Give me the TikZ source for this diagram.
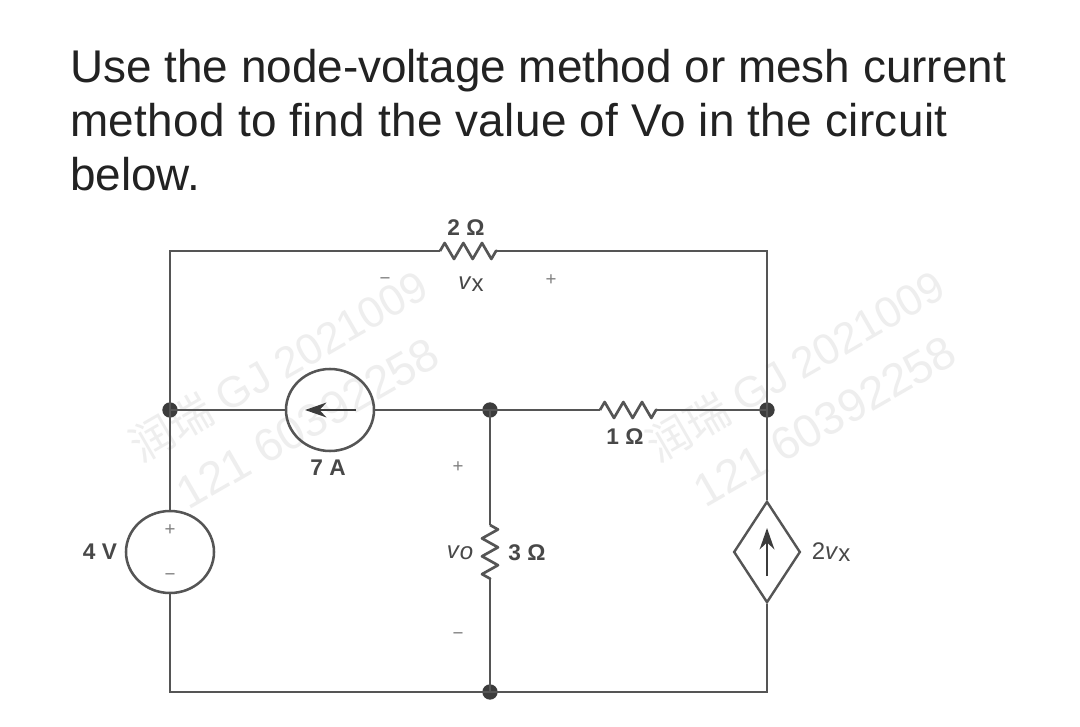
\documentclass[tikz,border=0pt]{standalone}
\usepackage{fontspec}
\setmainfont{Liberation Sans}
\newfontfamily\cjk{Noto Sans CJK SC}
\usetikzlibrary{decorations.pathmorphing,arrows.meta,shapes.geometric}
\definecolor{wire}{HTML}{555555}
\definecolor{lab}{HTML}{484848}
\definecolor{mark}{HTML}{EEEEEE}
\definecolor{head}{HTML}{222222}
\tikzset{
  wirep/.style={draw=wire,line width=2pt},
  dotn/.style={circle,fill=wire!70!black,inner sep=0pt,minimum size=11.5pt},
  src/.style={ellipse,draw=wire,line width=1.9pt,inner sep=0pt,minimum width=66pt,minimum height=61.5pt},
  dep/.style={diamond,draw=wire,line width=1.8pt,inner sep=0pt,minimum width=50pt,minimum height=76pt,aspect=0.66},
  res/.style={wirep,line join=round,decorate,decoration={zigzag,segment length=14pt,amplitude=6pt}},
  resv/.style={wirep,line join=round,decorate,decoration={zigzag,segment length=13.4pt,amplitude=6pt}},
  lbl/.style={text=lab,font=\fontsize{17}{17}\selectfont\bfseries,inner sep=0pt},
  lbi/.style={text=lab,font=\fontsize{18}{18}\selectfont,inner sep=0pt},
  pm/.style={text=lab!70,font=\fontsize{14}{14}\selectfont,inner sep=0pt},
  title/.style={text=head,font=\fontsize{34.4}{40.5}\selectfont,inner sep=0pt,anchor=base west},
  wmk/.style={text=mark,font=\fontsize{32.5}{32.5}\selectfont,inner sep=0pt,anchor=west,rotate=30},
  wmn/.style={wmk,font=\fontsize{34.5}{34.5}\selectfont},
  arr/.style={-{Stealth[length=16pt,width=11pt]},draw=wire!70!black,line width=2.2pt}
}
\begin{document}
\begin{tikzpicture}[x=0.75pt,y=-0.75pt]
\useasboundingbox (0,0) rectangle (1080,727);
\fill[white] (0,0) rectangle (1080,727);
\node[title] (t1) at (70,83) {Use the node-voltage method or mesh current};
\node[title] (t2) at (70,137) {\addfontfeature{LetterSpace=0.8}method to find the value of Vo in the circuit};
\node[title] (t3) at (70,191) {below.};
% watermarks
\node[wmk] (w1) at (133,449) {{\cjk 润瑞} GJ 2021009};
\node[wmn] (w2) at (180,497) {121 60392258};
\node[wmk] (w3) at (650,449) {{\cjk 润瑞} GJ 2021009};
\node[wmn] (w4) at (697,495) {121 60392258};
% junctions and corners
\coordinate (tl) at (170,251);
\coordinate (tr) at (767,251);
\coordinate (bl) at (170,692);
\coordinate (br) at (767,692);
\coordinate (r2a) at (440,251);
\coordinate (r2b) at (497,251);
\coordinate (r1a) at (600,410);
\coordinate (r1b) at (657,410);
\coordinate (r3a) at (490,525);
\coordinate (r3b) at (490,579);
\node[dotn] (nl) at (170,410) {};
\node[dotn] (nm) at (490,410) {};
\node[dotn] (nr) at (767,410) {};
\node[dotn] (nb) at (490,692) {};
\node[src] (vs) at (170,552) {};
\node[src] (cs) at (330,410) {};
\node[dep] (ds) at (767,552) {};
% wires
\draw[wirep,line join=miter] (vs.north) -- (nl.center) -- (tl) -- (r2a);
\draw[res] (r2a) -- (r2b);
\draw[wirep,line join=miter] (r2b) -- (tr) -- (nr.center);
\draw[wirep] (nl.center) -- (cs.west);
\draw[wirep] (cs.east) -- (nm.center);
\draw[wirep] (nm.center) -- (r1a);
\draw[res] (r1a) -- (r1b);
\draw[wirep] (r1b) -- (nr.center);
\draw[wirep] (nr.center) -- (ds.north);
\draw[wirep] (nm.center) -- (r3a);
\draw[resv] (r3a) -- (r3b);
\draw[wirep] (r3b) -- (nb.center);
\draw[wirep,line join=miter] (vs.south) -- (bl) -- (nb.center) -- (br) -- (ds.south);
% source arrows
\coordinate (ca) at (356,410);
\coordinate (cb) at (305,410);
\draw[arr] (ca) -- (cb);
\coordinate (da) at (767,576);
\coordinate (db) at (767,528);
\draw[arr] (da) -- (db);
% labels
\node[lbl] (l2) at (466,228) {2 Ω};
\node[lbi] (lvx) at (471,284) {\textit{v}\raisebox{-1.5pt}{x}};
\node[pm] (lm1) at (385,281) {−};
\node[pm] (lp1) at (551,280) {+};
\node[lbl] (l7) at (328,468) {7 A};
\node[pm] (lp2) at (458,467) {+};
\node[lbi] (lvo) at (460,553) {\textit{v}\raisebox{-1pt}{\textit{o}}};
\node[lbl] (l3) at (527,553) {3 Ω};
\node[pm] (lm2) at (458,636) {−};
\node[lbl] (l1) at (625,437) {1 Ω};
\node[lbl] (l4) at (100,552) {4 V};
\node[pm] (lp3) at (170,530) {+};
\node[pm] (lm3) at (170,577) {−};
\node[lbi] (l2v) at (831,552) {2\textit{v}\raisebox{-1.5pt}{x}};
\end{tikzpicture}
\end{document}
